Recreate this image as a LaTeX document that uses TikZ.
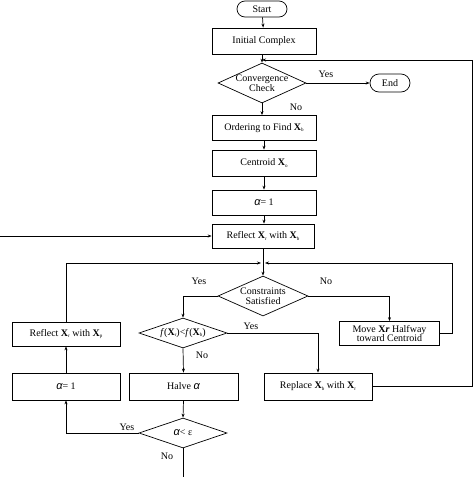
\documentclass[tikz,border=0pt]{standalone}
\usepackage{fontspec}
\setmainfont{Liberation Serif}
\newfontfamily\alffont{Liberation Sans}
\usetikzlibrary{shapes.geometric,arrows.meta}
\newcommand{\subx}[1]{\raisebox{-0.25ex}{\fontsize{5}{5}\selectfont #1}}
\newcommand{\Xs}[1]{\textbf{X}\subx{#1}}
\newcommand{\alf}{{\alffont\itshape\fontsize{11}{11}\selectfont α}}
\begin{document}
\begin{tikzpicture}[x=1pt,y=-1pt,
  every node/.style={font=\fontsize{10}{11}\selectfont},
  proc/.style={draw, line width=0.7pt, rectangle, inner sep=1pt, align=center},
  term/.style={draw, line width=0.7pt, rectangle, rounded corners=8pt, inner sep=1pt},
  dec/.style={draw, line width=0.7pt, diamond, aspect=2.2, inner xsep=-4pt, inner ysep=-3pt, align=center},
  flat/.style={aspect=3.2},
  lbl/.style={inner sep=0pt},
  conn/.style={line width=0.7pt, -{Stealth[length=4pt,width=3pt]}},
  ln/.style={line width=0.7pt}]
\useasboundingbox (0,0) rectangle (474,477);

\node[term, minimum width=50, minimum height=16] (start) at (262,9) {Start};
\node[proc, minimum width=104, minimum height=26] (init) at (264,41) {Initial Complex};
\node[dec, minimum width=88, minimum height=40] (conv) at (262,83) {Convergence\\[-1pt]Check};
\node[term, minimum width=40, minimum height=18, rounded corners=9pt] (end) at (390,83) {End};
\node[proc, minimum width=104, minimum height=25] (order) at (264,128) {Ordering to Find \Xs{b}};
\node[proc, minimum width=104, minimum height=26] (cent) at (264,163) {Centroid \Xs{o}};
\node[proc, minimum width=104, minimum height=25] (alpha1) at (264,202.5) {\alf{}= 1};
\node[proc, minimum width=102, minimum height=24] (refl) at (263,236) {Reflect \Xs{r} with \Xs{b}};

\coordinate (jn) at (263,263);
\coordinate (jtop) at (262,60);
\coordinate (lin) at (0,236);

\node[dec, minimum width=90, minimum height=40] (cons) at (263,296) {Constraints\\[-1pt]Satisfied};
\node[proc, minimum width=100, minimum height=24, inner sep=0.5pt] (move) at (389.5,333.5) {Move \textbf{X\textit{r}} Halfway\\[-1.5pt]toward Centroid};
\node[dec, flat, minimum width=88, minimum height=30] (f) at (183,333) {\textit{f}(\Xs{r})<\textit{f}(\Xs{b})};
\node[proc, minimum width=108, minimum height=24] (reflp) at (66,334) {Reflect \Xs{r} with \Xs{p}};
\node[proc, minimum width=109, minimum height=27] (halve) at (183.5,386.5) {Halve \alf};
\node[proc, minimum width=108, minimum height=27] (alphaL) at (66,386.5) {\alf{}= 1};
\node[proc, minimum width=108, minimum height=27] (repl) at (318,386.5) {Replace \Xs{b} with \Xs{r}};
\node[dec, flat, minimum width=88, minimum height=30] (eps) at (183,433) {\alf{}< ε};
\coordinate (bot) at (183,477);

% labels
\node[lbl] (lyes1) at (326,74) {Yes};
\node[lbl] (lno1) at (296,107) {No};
\node[lbl] (lyes2) at (199,281) {Yes};
\node[lbl] (lno2) at (326,281) {No};
\node[lbl] (lyes3) at (251,326) {Yes};
\node[lbl] (lno3) at (202,355) {No};
\node[lbl] (lyes4) at (127,427) {Yes};
\node[lbl] (lno4) at (167,456) {No};

% connectors
\draw[conn] (start) -- (init);
\draw[conn] (init.south -| conv) -- (conv.north);
\draw[conn] (conv) -- (end);
\draw[conn] (conv) -- (order.north -| conv);
\draw[conn] (order) -- (cent);
\draw[conn] (cent) -- (alpha1);
\draw[conn] (alpha1) -- (refl.north -| alpha1);
\draw[conn] (lin) -- (refl.west);
\draw[conn] (refl.south -| jn) -- (cons.north);
\draw[conn] (cons.west) -| (f.north);
\draw[conn] (cons.east) -| (move.north);
\draw[conn] (move.east) -- (452,333.5) -- (452,263) -- ([xshift=2]jn);
\draw[conn] (reflp.north) |- ([xshift=-2]jn);
\draw[conn] (f.east) -| (repl.north);
\draw[conn] (f.south) -- (halve.north);
\draw[conn] (halve.south) -- (eps.north);
\draw[conn] (eps.west) -| (alphaL.south);
\draw[conn] (alphaL.north) -- (reflp.south);
\draw[ln] (eps.south) -- (bot);
\draw[conn] (repl.east) -- (472,386.5) -- (472,60) -- (jtop);
\end{tikzpicture}
\end{document}
